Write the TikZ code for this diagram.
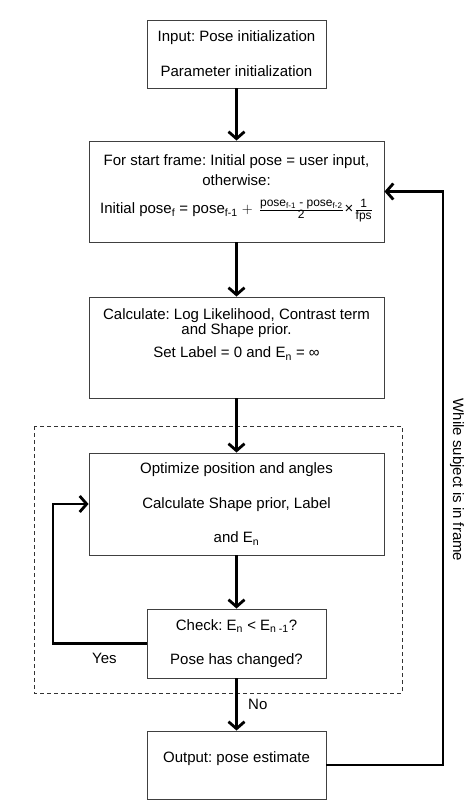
\documentclass[tikz,border=0pt]{standalone}
\usepackage{fontspec}
\setmainfont{Liberation Sans}
\usetikzlibrary{arrows.meta}
\frenchspacing
\newcommand{\fracsize}{\fontsize{12}{12}\selectfont}
\tikzset{
  box/.style={draw=black!75, line width=0.9pt, align=center, inner sep=0pt,
    font=\fontsize{15}{20}\selectfont},
  flow/.style={line width=2.8pt, -{Straight Barb[length=7pt,width=16pt]}},
  loopframe/.style={draw=black!80, line width=0.9pt, dash pattern=on 4pt off 3pt},
}
\begin{document}
\begin{tikzpicture}[x=1pt,y=-1pt]
    \useasboundingbox (0,0) rectangle (474,810);

    % boxes
    \node[box, minimum width=179pt, minimum height=68pt] (input) at (236.5,54)
        {Input: Pose initialization\\[15pt]Parameter initialization};
    \node[box, minimum width=295pt, minimum height=101pt] (start) at (236.5,191.5)
        {For start frame: Initial pose = user input,\\otherwise:\\[8pt]
         Initial pose\textsubscript{f} = pose\textsubscript{f-1} $+$\hspace{2pt}
         $\frac{\mbox{\fracsize pose\textsubscript{f-1} - pose\textsubscript{f-2}}}{\mbox{\fracsize 2}}$%
         \hspace{1pt}×\hspace{1pt}%
         $\frac{\mbox{\fracsize 1}}{\mbox{\fracsize fps}}$\\[-5pt]\mbox{}};
    \node[box, minimum width=295pt, minimum height=101pt] (calc) at (236.5,347.5)
        {Calculate: Log Likelihood, Contrast term\\[-5pt]and Shape prior.\\[3pt]
         Set Label = 0 and E\textsubscript{n} = ∞\\[8pt]\mbox{}};
    \node[box, minimum width=295pt, minimum height=102pt] (optim) at (236.5,504)
        {Optimize position and angles\\[15pt]Calculate Shape prior, Label\\[14pt]and E\textsubscript{n}};
    \node[box, minimum width=179pt, minimum height=69pt] (check) at (236.5,643.5)
        {Check: E\textsubscript{n} < E\textsubscript{n -1}?\\[14pt]Pose has changed?};
    \node[box, minimum width=179pt, minimum height=68pt] (output) at (236.5,765)
        {Output: pose estimate\\[-4pt]\mbox{}};

    % inner loop frame
    \draw[loopframe] (34,426) rectangle (402,693);

    % main flow
    \draw[flow] (input) -- (start);
    \draw[flow] (start) -- (calc);
    \draw[flow] (calc) -- (optim);
    \draw[flow] (optim) -- (check);
    \draw[flow] (check) -- node[right=7pt, font=\fontsize{15}{20}\selectfont]{No} (output);

    % loops back
    \coordinate (yescorner) at (53,643.5);
    \draw[flow] (check.west) -- node[pos=0.45, below=5pt, font=\fontsize{15}{20}\selectfont]{Yes} (yescorner) |- (optim.west);
    \coordinate (framecorner) at (443,765);
    \draw[flow] (output.east) -- (framecorner) |- (start.east);
    \node[rotate=-90, font=\fontsize{15}{20}\selectfont] (whilelabel) at (457,480) {While subject is in frame};
\end{tikzpicture}
\end{document}
